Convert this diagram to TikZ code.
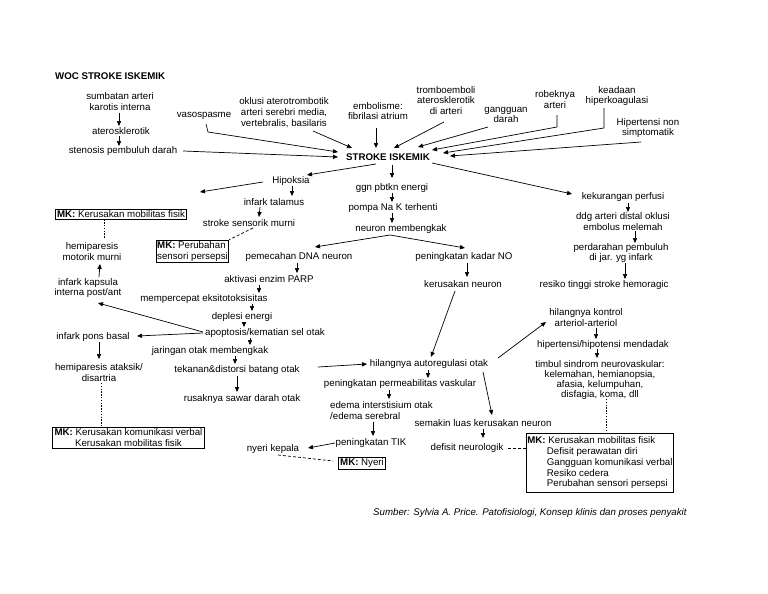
\documentclass[tikz,border=0pt]{standalone}
\usepackage{fontspec}
\setmainfont{Liberation Sans}
\usetikzlibrary{arrows.meta,calc}
\newcommand\mfs{\fontsize{9.7}{10.7}\selectfont}
\tikzset{
  every node/.style={font=\mfs, inner sep=1pt, align=center, text=black},
  mkbox/.style={draw, line width=0.8pt, inner xsep=1.5pt, inner ysep=1.5pt},
  arr/.style={line width=0.7pt, -{Triangle[length=5pt,width=4.2pt]}},
  dotln/.style={line width=0.7pt, dash pattern=on 1.4pt off 1.4pt},
  dshln/.style={line width=0.7pt, dash pattern=on 3pt off 2pt},
}
\begin{document}
\begin{tikzpicture}[x=1pt,y=-1pt]
\useasboundingbox (0,0) rectangle (768,594);
\fill[white] (0,0) rectangle (768,594);
% title
\node[anchor=west, font=\mfs\bfseries] (title) at (54,76) {WOC STROKE ISKEMIK};
% causes
\node (sumb) at (120,101.3) {sumbatan arteri\\karotis interna};
\node (ater) at (121,131) {aterosklerotik};
\node (sten) at (123,151) {stenosis pembuluh darah};
\node (vaso) at (204,116) {vasospasme};
\node (okl) at (284,112.7) {oklusi aterotrombotik\\arteri serebri media,\\vertebralis, basilaris};
\node (emb) at (378,111) {embolisme:\\fibrilasi atrium};
\node (tromb) at (446,100.5) {tromboemboli\\aterosklerotik\\di arteri};
\node (gang) at (506,115) {gangguan\\darah};
\node (rob) at (555,99.7) {robeknya\\arteri};
\node (kead) at (617,96) {keadaan\\hiperkoagulasi};
\node (hip) at (648,128) {Hipertensi non\\simptomatik};
\node[font=\mfs\bfseries] (stroke) at (388,157) {STROKE ISKEMIK};
% left branch
\node (hipo) at (291,181) {Hipoksia};
\coordinate (hipoend) at (200,192);
\node (tal) at (274,202) {infark talamus};
\node (sens) at (249,223) {stroke sensorik murni};
\node[mkbox] (mk1) at (121,214) {\textbf{MK:} Kerusakan mobilitas fisik};
\node (hemi1) at (92,251.5) {hemiparesis\\motorik murni};
\node (kaps) at (88,288) {infark kapsula\\interna post/ant};
\node[mkbox, align=left, inner xsep=1pt] (mk2) at (192.5,251.5) {\textbf{MK:} Perubahan\\sensori persepsi};
% center chain
\node (ggn) at (392,188) {ggn pbtkn energi};
\node (pompa) at (393,208) {pompa Na K terhenti};
\node (neuron) at (401,229) {neuron membengkak};
\node (dna) at (299,257) {pemecahan DNA neuron};
\node (no) at (464,257) {peningkatan kadar NO};
\node (kerus) at (463,284) {kerusakan neuron};
\node (parp) at (269,279) {aktivasi enzim PARP};
\node (eksi) at (204,299) {mempercepat eksitotoksisitas};
\node (depl) at (242,317) {deplesi energi};
\node (apop) at (265,333) {apoptosis/kematian sel otak};
\node (pons) at (93,337) {infark pons basal};
\node (jar) at (210,351) {jaringan otak membengkak};
\node (ataks) at (99,372.5) {hemiparesis ataksik/\\disartria};
\node[mkbox, inner xsep=2pt] (mk3) at (128.5,437.5) {\textbf{MK:} Kerusakan komunikasi verbal\\Kerusakan mobilitas fisik};
\node (tek) at (237,370) {tekanan\&distorsi batang otak};
\node (rus) at (242,399) {rusaknya sawar darah otak};
\node (auto) at (429,364) {hilangnya autoregulasi otak};
\node (kontrol) at (586,317.5) {hilangnya kontrol\\arteriol-arteriol};
\node (hipot) at (603,345) {hipertensi/hipotensi mendadak};
\node[font=\fontsize{9.7}{9.8}\selectfont] (timbul) at (600,380) {timbul sindrom neurovaskular:\\kelemahan, hemianopsia,\\afasia, kelumpuhan,\\disfagia, koma, dll};
\node[mkbox, anchor=north west, align=left, inner xsep=1pt, minimum height=59pt, font=\fontsize{9.7}{10.75}\selectfont] (mk4) at (526,433) {\textbf{MK:} Kerusakan mobilitas fisik\\\hspace*{19.5pt}Defisit perawatan diri\\\hspace*{19.5pt}Gangguan komunikasi verbal\\\hspace*{19.5pt}Resiko cedera\\\hspace*{19.5pt}Perubahan sensori persepsi};
\node (defisit) at (467,448) {defisit neurologik};
\node (semakin) at (483,423) {semakin luas kerusakan neuron};
\node (perm) at (400,384) {peningkatan permeabilitas vaskular};
\node[anchor=west, align=left] (edema) at (329,410.5) {edema interstisium otak\\/edema serebral};
\node (tik) at (371,443) {peningkatan TIK};
\node (nyeri) at (273,449) {nyeri kepala};
\node[mkbox] (mk5) at (362,463) {\textbf{MK:} Nyeri};
% right branch
\node (perf) at (623,197) {kekurangan perfusi};
\node (ddg) at (623,221.5) {ddg arteri distal oklusi\\embolus melemah};
\node (perd) at (621,253) {perdarahan pembuluh\\di jar. yg infark};
\node (resiko) at (604,285) {resiko tinggi stroke hemoragic};
% source
\node[anchor=west, font=\mfs\itshape] (src) at (372,513) {Sumber: Sylvia A. Price. Patofisiologi, Konsep klinis dan proses penyakit};

% connectors: causes
\draw[arr] ($(sumb)+(-1,11.7)$) -- ($(ater)+(-2,-5)$);
\draw[arr] ($(ater)+(-2,5)$) -- ($(sten)+(-4,-5)$);
\draw[arr] ($(vaso)+(2,8)$) -- ($(vaso)+(4,16)$) -- ($(stroke)+(-50,-5)$);
\draw[arr] ($(sten)+(60,0)$) -- ($(stroke)+(-50,0)$);
\draw[arr] ($(okl)+(29,18.3)$) -- ($(stroke)+(-36,-9)$);
\draw[arr] ($(emb)+(-2,17)$) -- ($(stroke)+(-12,-9)$);
\draw[arr] ($(tromb)+(-2,21.5)$) -- ($(stroke)+(6,-9)$);
\draw[arr] ($(gang)+(-18,12)$) -- ($(stroke)+(30,-10)$);
\draw[arr] ($(rob)+(2,15.3)$) -- ($(rob)+(2,27.3)$) -- ($(stroke)+(44,-7)$);
\draw[arr] ($(kead)+(-13,12)$) -- ($(kead)+(-13,32)$) -- ($(stroke)+(55,-4)$);
\draw[arr] ($(hip)+(-7,14)$) -- ($(stroke)+(62,-1)$);
% left branch
\draw[arr] ($(stroke)+(-12,7)$) -- ($(hipo)+(16,-6)$);
\draw[arr] ($(hipo)+(-28,1)$) -- (hipoend);
\draw[arr] ($(hipo)+(1,5)$) -- ($(tal)+(18,-6)$);
\draw[arr] ($(tal)+(-14,5)$) -- ($(sens)+(10,-6)$);
\draw[dshln] ($(sens)+(4,5)$) -- (mk2.north east);
\draw[dotln] ($(mk1.south)+(-17,0)$) -- ($(hemi1)+(12,-12.5)$);
\draw[arr] ($(kaps)+(11,-11)$) -- ($(hemi1)+(8,12.5)$);
\draw[arr] ($(apop)+(-62,-1)$) -- ($(kaps)+(10,15)$);
\draw[arr] ($(apop)+(-62,0)$) -- ($(pons)+(44,-1)$);
\draw[arr] ($(pons)+(6,5)$) -- ($(ataks)+(0,-13.5)$);
\draw[dotln] ($(ataks)+(2,10.5)$) -- ($(mk3.north)+(-27.5,0)$);
% center chain
\draw[arr] ($(stroke)+(4,8)$) -- ($(ggn)+(0,-10)$);
\draw[arr] ($(ggn)+(0,5)$) -- ($(pompa)+(-1,-6)$);
\draw[arr] ($(pompa)+(-1,5)$) -- ($(neuron)+(-9,-6)$);
\draw[arr] ($(neuron)+(-11,6)$) -- ($(dna)+(16,-10)$);
\draw[arr] ($(neuron)+(-11,6)$) -- ($(no)+(1,-9)$);
\draw[arr] ($(dna)+(-2,6)$) -- ($(parp)+(28,-6)$);
\draw[arr] ($(parp)+(-10,6)$) -- ($(eksi)+(55,-6)$);
\draw[arr] ($(eksi)+(48,5)$) -- ($(depl)+(10,-6)$);
\draw[arr] ($(depl)+(2,5)$) -- ($(apop)+(-21,-6)$);
\draw[arr] ($(apop)+(-15,5)$) -- ($(jar)+(40,-6)$);
\draw[arr] ($(jar)+(25,5)$) -- ($(tek)+(-2,-6)$);
\draw[arr] ($(tek)+(0,6)$) -- ($(rus)+(-5,-7)$);
\draw[arr] ($(tek)+(81,-3)$) -- ($(auto)+(-62,0)$);
\draw[arr] ($(no)+(3,6)$) -- ($(kerus)+(4,-7)$);
\draw[arr] ($(kerus)+(-8,7)$) -- ($(auto)+(2,-7)$);
\draw[arr] ($(auto)+(69,-6)$) -- ($(kontrol)+(-40,4.5)$);
\draw[arr] ($(kontrol)+(10,10.5)$) -- ($(hipot)+(-7,-6)$);
\draw[arr] ($(hipot)+(-6,4)$) -- ($(timbul)+(-3,-22)$);
\draw[dotln] ($(timbul)+(6,19)$) -- ($(mk4.north west)+(80,0)$);
\draw[arr] ($(auto)+(-1,6)$) -- ($(perm)+(28,-6)$);
\draw[arr] ($(perm)+(-11,6)$) -- ($(edema.west)+(60,-11.5)$);
\draw[arr] ($(edema.west)+(44,11.5)$) -- ($(tik)+(2,-7)$);
\draw[arr] ($(tik)+(-36,0)$) -- ($(nyeri)+(35,-1)$);
\draw[dshln] ($(nyeri)+(5,6)$) -- ($(mk5.west)+(-5,-2)$);
\draw[arr] ($(auto)+(54,8)$) -- ($(semakin)+(9,-8)$);
\draw[arr] ($(semakin)+(0,6)$) -- ($(defisit)+(16,-10)$);
\draw[dshln] ($(defisit)+(41,0)$) -- ($(mk4.north west)+(0,15)$);
% right branch
\draw[arr] ($(stroke)+(44,6)$) -- ($(perf)+(-51,-3)$);
\draw[arr] ($(perf)+(5,6)$) -- ($(ddg)+(5,-9.5)$);
\draw[arr] ($(ddg)+(12,9.5)$) -- ($(perd)+(14,-10)$);
\draw[arr] ($(perd)+(4,10)$) -- ($(resiko)+(21,-6)$);
\end{tikzpicture}
\end{document}
